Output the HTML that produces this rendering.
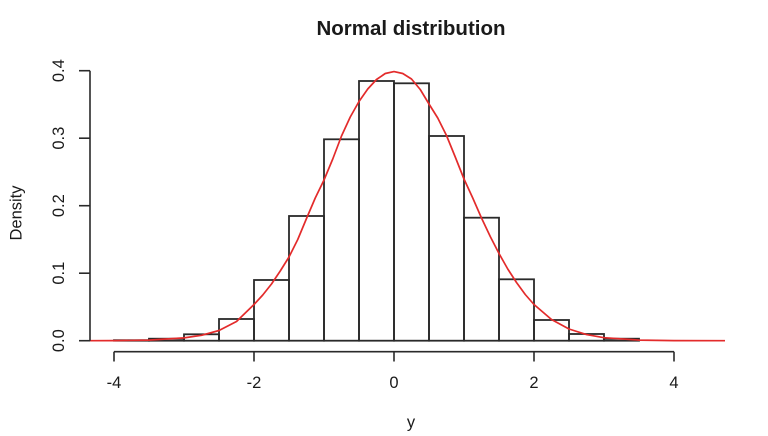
<!DOCTYPE html>
<html>
<head>
<meta charset="utf-8">
<style>
  html, body { margin: 0; padding: 0; background: #ffffff; }
  svg { display: block; }
  text { font-family: "Liberation Sans", Arial, sans-serif; fill: #1a1a1a; }
</style>
</head>
<body>
<svg width="768" height="436" viewBox="0 0 768 436" xmlns="http://www.w3.org/2000/svg">
  <rect x="0" y="0" width="768" height="436" fill="#ffffff"/>

  <!-- Title -->
  <text x="411" y="35" font-size="20.5" font-weight="bold" text-anchor="middle">Normal distribution</text>

  <!-- Histogram bars -->
  <g fill="none" stroke="#2a2a2a" stroke-width="1.8" stroke-linejoin="miter">
    <rect x="114" y="340.2" width="35" height="0.5"/>
    <rect x="149" y="338.7" width="35" height="2"/>
    <rect x="184" y="334.3" width="35" height="6.4"/>
    <rect x="219" y="319" width="35" height="21.7"/>
    <rect x="254" y="280" width="35" height="60.7"/>
    <rect x="289" y="216" width="35" height="124.7"/>
    <rect x="324" y="139.3" width="35" height="201.4"/>
    <rect x="359" y="81" width="35" height="259.7"/>
    <rect x="394" y="83.3" width="35" height="257.4"/>
    <rect x="429" y="136" width="35" height="204.7"/>
    <rect x="464" y="217.7" width="35" height="123"/>
    <rect x="499" y="279.3" width="35" height="61.4"/>
    <rect x="534" y="320" width="35" height="20.7"/>
    <rect x="569" y="334" width="35" height="6.7"/>
    <rect x="604" y="338.7" width="35" height="2"/>
  </g>

  <!-- Density curve -->
  <polyline fill="none" stroke="#e32b2b" stroke-width="1.7" stroke-linejoin="round"
    points="90,340.7 114,340.6 149,340.1 184,337.9 201.5,335.3 219,330.5 236.5,321.5 254,304.5 262.75,295 271.5,284 280.25,271 289,257 297.75,239.5 306.5,218.5 315.25,198 324,180 332.75,159 341.5,136 350.25,117 359,101.5 367.75,89 376.5,79.5 385.25,73.5 394,71.6 402.75,73.5 411.5,79 420.25,89.5 429,104 437.75,118 446.5,135.5 455.25,157 464,179 472.75,198 481.5,218 490.25,236.5 499,253.5 507.75,269 516.5,282.5 525.25,294.5 534,304.5 551.5,319.5 569,329 586.5,334.6 604,337.7 639,340.1 674,340.6 725,340.7"/>

  <!-- Y axis -->
  <g stroke="#2a2a2a" stroke-width="1.6" fill="none">
    <line x1="90" y1="70.7" x2="90" y2="340.7"/>
    <line x1="79" y1="340.7" x2="90" y2="340.7"/>
    <line x1="79" y1="273.2" x2="90" y2="273.2"/>
    <line x1="79" y1="205.7" x2="90" y2="205.7"/>
    <line x1="79" y1="138.2" x2="90" y2="138.2"/>
    <line x1="79" y1="70.7" x2="90" y2="70.7"/>
  </g>
  <g font-size="16.5" text-anchor="middle">
    <text transform="translate(64,340.7) rotate(-90)">0.0</text>
    <text transform="translate(64,273.2) rotate(-90)">0.1</text>
    <text transform="translate(64,205.7) rotate(-90)">0.2</text>
    <text transform="translate(64,138.2) rotate(-90)">0.3</text>
    <text transform="translate(64,70.7) rotate(-90)">0.4</text>
  </g>
  <text transform="translate(21.7,213) rotate(-90)" font-size="16.5" text-anchor="middle">Density</text>

  <!-- X axis -->
  <g stroke="#2a2a2a" stroke-width="1.6" fill="none">
    <line x1="114" y1="351.7" x2="674" y2="351.7"/>
    <line x1="114" y1="351.7" x2="114" y2="361.5"/>
    <line x1="254" y1="351.7" x2="254" y2="361.5"/>
    <line x1="394" y1="351.7" x2="394" y2="361.5"/>
    <line x1="534" y1="351.7" x2="534" y2="361.5"/>
    <line x1="674" y1="351.7" x2="674" y2="361.5"/>
  </g>
  <g font-size="16.5" text-anchor="middle">
    <text x="114" y="388">-4</text>
    <text x="254" y="388">-2</text>
    <text x="394" y="388">0</text>
    <text x="534" y="388">2</text>
    <text x="674" y="388">4</text>
  </g>
  <text x="411" y="427.5" font-size="16.5" text-anchor="middle">y</text>
</svg>
</body>
</html>
